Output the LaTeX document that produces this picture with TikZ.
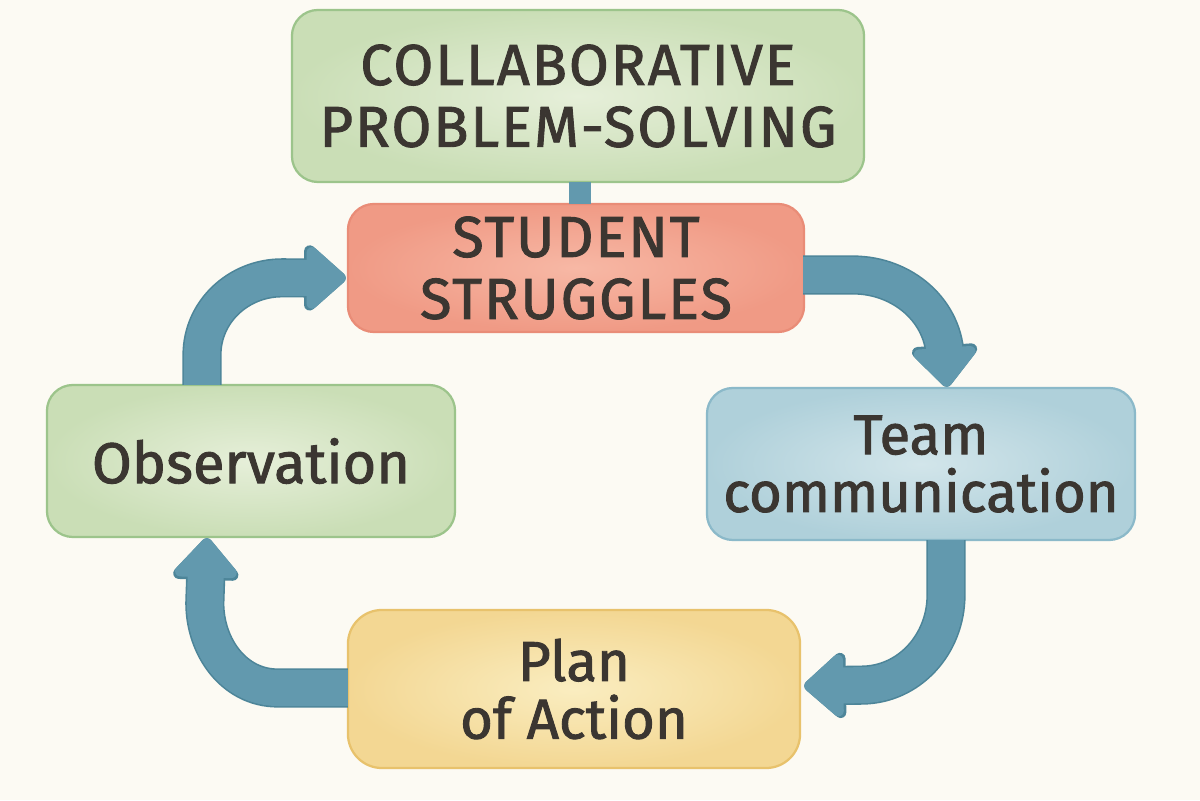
\documentclass[tikz,border=0pt]{standalone}
\usepackage{fontspec}
\newfontfamily\boxfont{Fira Sans}[FakeBold=1.6]
\usetikzlibrary{arrows.meta,calc}
\definecolor{paper}{HTML}{FCFAF3}
\definecolor{ink}{HTML}{3B3631}
\definecolor{flowblue}{HTML}{6299AE}
\definecolor{flowedge}{HTML}{4D8599}
\definecolor{greenin}{HTML}{E6EFD9}
\definecolor{greenout}{HTML}{CADEB6}
\definecolor{greenedge}{HTML}{9CC48B}
\definecolor{redin}{HTML}{F7B8A5}
\definecolor{redout}{HTML}{F09A85}
\definecolor{rededge}{HTML}{E98C77}
\definecolor{bluein}{HTML}{D2E5EA}
\definecolor{blueout}{HTML}{AFD0DA}
\definecolor{blueedge}{HTML}{8BB9C9}
\definecolor{yellowin}{HTML}{FAEDC0}
\definecolor{yellowout}{HTML}{F3D793}
\definecolor{yellowedge}{HTML}{E8C26C}
\tikzset{
  stage/.style={rounded corners=0.65cm, line width=1.6pt, align=center,
    text=ink, font=\boxfont\fontsize{40}{41}\selectfont, inner sep=0pt},
  capsfont/.style={font=\boxfont\fontsize{41}{44}\selectfont\addfontfeature{LetterSpace=3.5}},
  greenbox/.style={stage, draw=greenedge, inner color=greenin, outer color=greenout},
  redbox/.style={stage, draw=rededge, inner color=redin, outer color=redout},
  bluebox/.style={stage, draw=blueedge, inner color=bluein, outer color=blueout},
  yellowbox/.style={stage, draw=yellowedge, inner color=yellowin, outer color=yellowout},
  flow/.style={draw=flowblue, line width=0.9cm,
    -{Triangle[round,width=1.8cm,length=1.05cm]},
    preaction={draw=flowedge, line width=0.98cm,
      -{Triangle[round,width=1.9cm,length=1.12cm]}}},
  link/.style={draw=flowblue, line width=0.55cm}
}
\begin{document}
\begin{tikzpicture}[x=0.025cm,y=0.025cm]
\fill[paper] (0,0) rectangle (1200,800);
\useasboundingbox (0,0) rectangle (1200,800);

\node[greenbox, capsfont, minimum width=14.3cm, minimum height=4.3cm] (collab) at (578,704)
  {COLLABORATIVE\\PROBLEM-SOLVING};
\node[redbox, capsfont, minimum width=11.4cm, minimum height=3.2cm] (stud) at (576,532)
  {STUDENT\\STRUGGLES};
\node[greenbox, minimum width=10.2cm, minimum height=3.8cm,
  font=\boxfont\fontsize{41}{41}\selectfont] (obs) at (251,339)
  {Observation};
\node[bluebox, minimum width=10.7cm, minimum height=3.8cm] (team) at (921,336)
  {Team\\communication};
\node[yellowbox, minimum width=11.3cm, minimum height=3.95cm, rounded corners=0.85cm] (plan) at (574,111)
  {Plan\\of Action};

\draw[link] ($(collab.south)+(2,1)$) -- ($(stud.north)+(4,-1)$);

\draw[flow] ($(stud.east)+(-2,-7)$) -- ++(50,0) to[out=0,in=90] ++(92,-85)
  -- ($(team.north)+(26,0)$);
\draw[flow] ($(team.south)+(25,1)$) -- ++(0,-55) to[out=-90,in=0] ++(-85,-90)
  -- ($(plan.east)+(3,3)$);
\draw[flow] ($(plan.west)+(1,1)$) -- ++(-70,0) to[out=180,in=-90] ++(-73,85)
  -- ($(obs.south)+(-44,0)$);
\draw[flow] ($(obs.north)+(-49,-1)$) -- ++(0,30) to[out=90,in=180] ++(80,77)
  -- ($(stud.west)+(-1,-10)$);
\end{tikzpicture}
\end{document}
